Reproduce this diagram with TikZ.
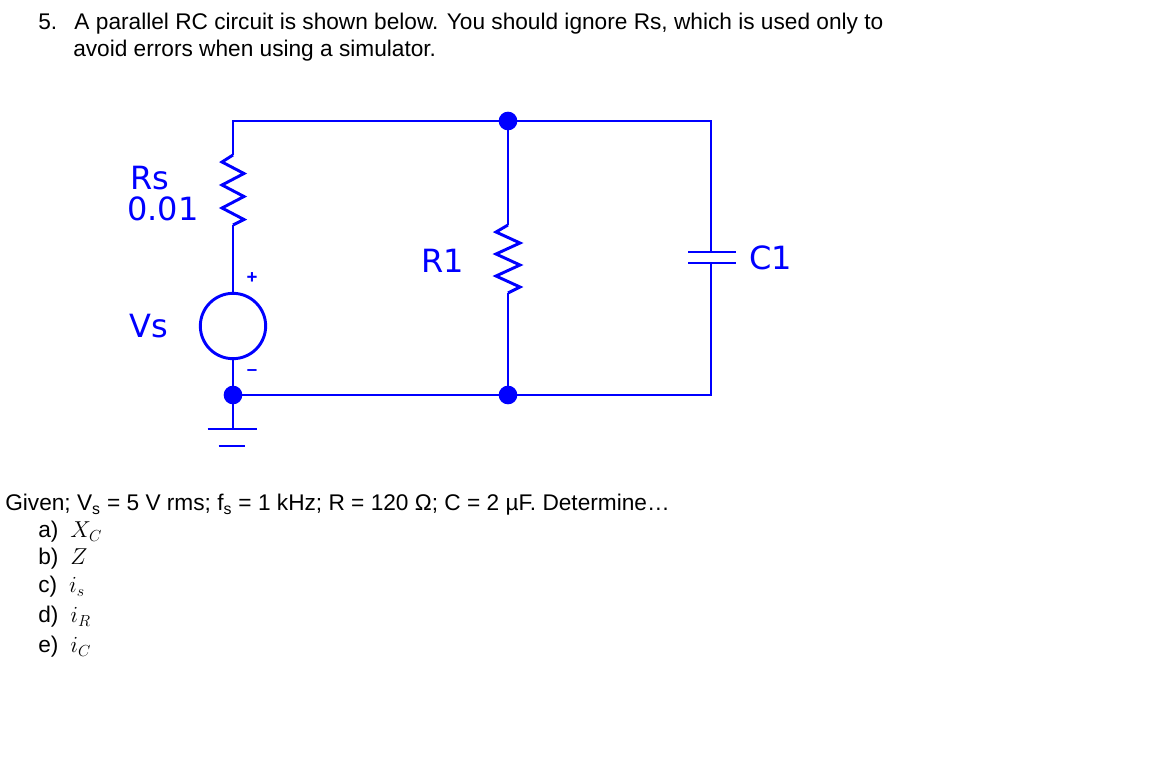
\documentclass[tikz,border=0pt]{standalone}
\usepackage{fontspec}
\setmainfont{Liberation Sans}
\newfontfamily\cktfont{DejaVu Sans}
\usetikzlibrary{positioning}
\definecolor{ckt}{RGB}{0,0,255}
\tikzset{
  wire/.style={draw=ckt, line width=2.2pt},
  lbl/.style={text=ckt, font=\cktfont\fontsize{24}{26}\selectfont, inner sep=0pt},
  txt/.style={font=\fontsize{17}{19}\selectfont, inner sep=0pt, anchor=west},
  dot/.style={circle, fill=ckt, minimum size=14pt, inner sep=0pt},
  x=0.75pt, y=-0.75pt
}
\begin{document}
\begin{tikzpicture}
  \useasboundingbox (0,0) rectangle (1152,775);
  % question text
  \node[txt] (q1) at (38,24) {5.\hspace{13pt}A parallel RC circuit is shown below. You should ignore Rs, which is used only to};
  \node[txt] (q2) at (73,51) {avoid errors when using a simulator.};
  % circuit nodes
  \coordinate (tl) at (233,121);
  \coordinate (tr) at (711,121);
  \coordinate (br) at (711,395);
  \coordinate (rsT) at (233,155);
  \coordinate (rsB) at (233,225);
  \coordinate (r1T) at (508,225);
  \coordinate (r1B) at (508,293);
  \coordinate (cT) at (711,252);
  \coordinate (cB) at (711,263);
  \coordinate (gnd) at (233,429);
  \coordinate (gnd2) at (232,446);
  \node[dot] (ntop) at (508,121) {};
  \node[dot] (nbot) at (508,395) {};
  \node[dot] (ngnd) at (233,395) {};
  \node[circle, draw=ckt, line width=2.2pt, minimum size=49pt, inner sep=0pt] (vs) at (233,326) {};
  % wires
  \draw[wire] (rsT) -- (tl) -- (tr) -- (cT);
  \draw[wire] (cB) -- (br) -- (ngnd.center);
  \draw[wire] (ntop.center) -- (r1T);
  \draw[wire] (r1B) -- (nbot.center);
  \draw[wire] (rsB) -- (vs.north);
  \draw[wire] (vs.south) -- (ngnd.center) -- (gnd);
  % resistors
  \draw[wire] (rsT) -- ++(-11,7) -- ++(22,11.5) -- ++(-22,11.5) -- ++(22,11.5) -- ++(-22,11.5) -- ++(22,11.5) -- (rsB);
  \draw[wire] (r1T) -- ++(-12,7) -- ++(24,11) -- ++(-24,11) -- ++(24,11) -- ++(-24,11) -- ++(24,11) -- (r1B);
  % capacitor plates
  \draw[wire] ([xshift=-17pt]cT) -- ([xshift=19pt]cT);
  \draw[wire] ([xshift=-17pt]cB) -- ([xshift=19pt]cB);
  % ground
  \draw[wire] ([xshift=-19pt]gnd) -- ([xshift=18pt]gnd);
  \draw[wire] ([xshift=-10pt]gnd2) -- ([xshift=10pt]gnd2);
  % labels
  \node[lbl, anchor=west] (lrs) at (130,178) {Rs};
  \node[lbl, anchor=west] (lrsv) at (127,209) {0.01};
  \node[lbl, anchor=west] (lvs) at (129,326) {Vs};
  \node[lbl, anchor=west] (lr1) at (421,261) {R1};
  \node[lbl, anchor=west] (lc1) at (749,258) {C1};
  \node[text=ckt, font=\bfseries\fontsize{14}{14}\selectfont, inner sep=0pt] (plus) at (252,278) {+};
  \node[text=ckt, font=\bfseries\fontsize{14}{14}\selectfont, inner sep=0pt] (minus) at (252,373) {\textendash};
  % given values and parts
  \node[txt] (given) at (5,505) {Given; V\textsubscript{s} = 5 V rms; f\textsubscript{s} = 1 kHz; R = 120 Ω; C = 2 µF. Determine…};
  \node[txt] (pa) at (38,532) {a)\hspace{9pt}$X_C$};
  \node[txt] (pb) at (38,559) {b)\hspace{9pt}$Z$};
  \node[txt] (pc) at (38,587) {c)\hspace{9pt}$i_s$};
  \node[txt] (pd) at (38,617) {d)\hspace{9pt}$i_R$};
  \node[txt] (pe) at (38,647) {e)\hspace{9pt}$i_C$};
\end{tikzpicture}
\end{document}
